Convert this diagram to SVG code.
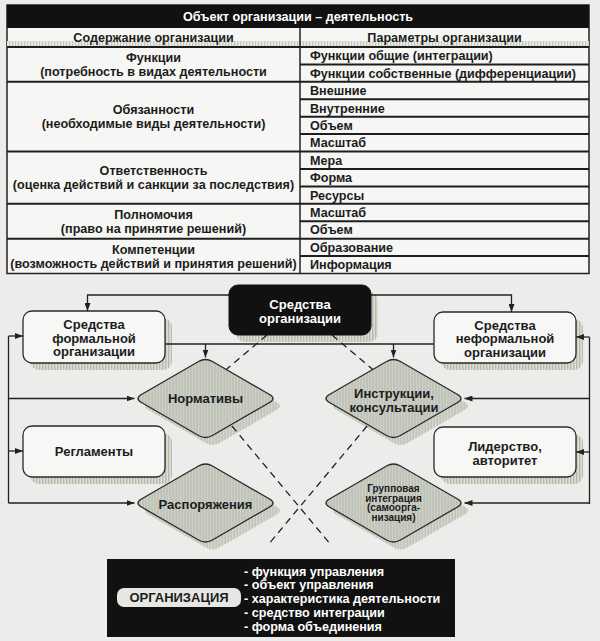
<svg xmlns="http://www.w3.org/2000/svg" xmlns:xlink="http://www.w3.org/1999/xlink" width="600" height="641" viewBox="0 0 600 641">
<defs>
  <pattern id="hatch" width="3" height="4" patternUnits="userSpaceOnUse">
    <rect width="3" height="4" fill="#d6d9cf"/>
    <rect width="1.4" height="4" fill="#a4a999"/>
  </pattern>
  <pattern id="dhatch" width="3" height="4" patternUnits="userSpaceOnUse">
    <rect width="3" height="4" fill="#d0d3ca"/>
    <rect width="1.2" height="4" fill="#b2b6aa"/>
  </pattern>
  <pattern id="thatch" width="3" height="4" patternUnits="userSpaceOnUse">
    <rect width="3" height="4" fill="#e9ebe4"/>
    <rect width="1.2" height="4" fill="#c3c8b8"/>
  </pattern>
  <marker id="arr" markerWidth="8" markerHeight="6" refX="8" refY="3" orient="auto" markerUnits="userSpaceOnUse">
    <path d="M0,0 L8,3 L0,6 z" fill="#222"/>
  </marker>
  <path id="dia" d="M-64.07,-4 Q-71,0 -64.07,4 L-6.93,37 Q0,41 6.93,37 L64.07,4 Q71,0 64.07,-4 L6.93,-37 Q0,-41 -6.93,-37 Z"/>
</defs>
<style>
  .t{font-family:"Liberation Sans",Arial,sans-serif;font-weight:bold;font-size:12.6px;fill:#1c1c1c}
  .n{font-family:"Liberation Sans",Arial,sans-serif;font-weight:bold;font-size:13px;fill:#1c1c1c;text-anchor:middle}
  .w{fill:#ffffff}
  .c{text-anchor:middle}
  .box{fill:#f7f7f5;stroke:#2a2a2a;stroke-width:1.3}
  .dia{fill:url(#dhatch);stroke:#2a2a2a;stroke-width:1.3}
  .sh{fill:url(#hatch);opacity:0.75}
  .ln{fill:none;stroke:#222;stroke-width:1.3}
  .ar{fill:none;stroke:#222;stroke-width:1.3;marker-end:url(#arr)}
  .dash{fill:none;stroke:#222;stroke-width:1.3;stroke-dasharray:7 5}
  .row{stroke:#1e1e1e;stroke-width:2}
</style>
<rect width="600" height="641" fill="#ececea"/>

<g id="table">
  <rect x="7" y="5" width="582" height="268.5" fill="#f6f6f4" stroke="#222" stroke-width="1.5"/>
  <rect x="7" y="41" width="582" height="5" fill="url(#thatch)"/>
  <rect x="7" y="5" width="582" height="23" fill="#111"/>
  <text class="t w c" x="298" y="21">Объект организации – деятельность</text>
  <text class="t c" x="153.5" y="42">Содержание организации</text>
  <text class="t c" x="444.5" y="42">Параметры организации</text>
  <line class="row" x1="7" y1="47" x2="589" y2="47"/>
  <line x1="300" y1="28" x2="300" y2="273.5" stroke="#222" stroke-width="1.5"/>
  <g class="row">
    <line x1="300" y1="64.4" x2="589" y2="64.4"/>
    <line x1="7" y1="81.8" x2="589" y2="81.8"/>
    <line x1="300" y1="99.3" x2="589" y2="99.3"/>
    <line x1="300" y1="116.7" x2="589" y2="116.7"/>
    <line x1="300" y1="134.1" x2="589" y2="134.1"/>
    <line x1="7" y1="151.5" x2="589" y2="151.5"/>
    <line x1="300" y1="169" x2="589" y2="169"/>
    <line x1="300" y1="186.4" x2="589" y2="186.4"/>
    <line x1="7" y1="203.8" x2="589" y2="203.8"/>
    <line x1="300" y1="221.2" x2="589" y2="221.2"/>
    <line x1="7" y1="238.7" x2="589" y2="238.7"/>
    <line x1="300" y1="256.1" x2="589" y2="256.1"/>
  </g>
  <g class="t c">
    <text x="153.5" y="61.8">Функции</text>
    <text x="153.5" y="75.8">(потребность в видах деятельности</text>
    <text x="153.5" y="114.1">Обязанности</text>
    <text x="153.5" y="128.1">(необходимые виды деятельности)</text>
    <text x="153.5" y="175">Ответственность</text>
    <text x="153.5" y="189">(оценка действий и санкции за последствия)</text>
    <text x="153.5" y="218.6">Полномочия</text>
    <text x="153.5" y="232.6">(право на принятие решений)</text>
    <text x="153.5" y="253.5">Компетенции</text>
    <text x="153.5" y="267.5">(возможность действий и принятия решений)</text>
  </g>
  <g class="t">
    <text x="310" y="60.2">Функции общие (интеграции)</text>
    <text x="310" y="77.6">Функции собственные (дифференциации)</text>
    <text x="310" y="95">Внешние</text>
    <text x="310" y="112.5">Внутренние</text>
    <text x="310" y="129.9">Объем</text>
    <text x="310" y="147.3">Масштаб</text>
    <text x="310" y="164.7">Мера</text>
    <text x="310" y="182.2">Форма</text>
    <text x="310" y="199.6">Ресурсы</text>
    <text x="310" y="217">Масштаб</text>
    <text x="310" y="234.4">Объем</text>
    <text x="310" y="251.9">Образование</text>
    <text x="310" y="269.3">Информация</text>
  </g>
</g>

<g id="shadows">
  <rect class="sh" x="30" y="318" width="142" height="52" rx="9"/>
  <rect class="sh" x="441" y="319" width="142" height="51" rx="9"/>
  <rect class="sh" x="30" y="433" width="142" height="51" rx="9"/>
  <rect class="sh" x="441" y="434" width="142" height="50" rx="9"/>
  <rect class="sh" x="236" y="292" width="142" height="50" rx="9"/>
  <use href="#dia" class="sh" x="212.5" y="406"/>
  <use href="#dia" class="sh" x="400.5" y="406"/>
  <use href="#dia" class="sh" x="212.5" y="510.5"/>
  <use href="#dia" class="sh" x="400.5" y="510.5"/>
</g>

<g id="connectors">
  <path class="dash" d="M267,335 L202,390 L331,545"/>
  <path class="dash" d="M332,335 L397,390 L268,545"/>
  <path class="ar" d="M229,295 H87.5 V311"/>
  <path class="ar" d="M371,295 H511.5 V312"/>
  <path class="ln" d="M165,344 H434"/>
  <path class="ar" d="M205.5,344 V357.5"/>
  <path class="ar" d="M393.5,344 V357.5"/>
  <path class="ln" d="M8.5,336 V503"/>
  <path class="ar" d="M8.5,336 H23"/>
  <path class="ar" d="M8.5,398.5 H134.5"/>
  <path class="ar" d="M8.5,451 H23"/>
  <path class="ar" d="M8.5,503 H134.5"/>
  <path class="ln" d="M589.5,337 V504"/>
  <path class="ar" d="M589.5,337 H576"/>
  <path class="ar" d="M589.5,398.5 H464.5"/>
  <path class="ar" d="M589.5,452 H576"/>
  <path class="ar" d="M589.5,503 H464.5"/>
</g>

<g id="n_center">
  <rect x="229" y="285" width="142" height="50" rx="9" fill="#111" stroke="#111"/>
  <text class="n w" x="300" y="308.5">Средства</text>
  <text class="n w" x="300" y="322.5">организации</text>
</g>
<g id="n_formal">
  <rect class="box" x="23" y="311" width="142" height="52" rx="9"/>
  <text class="n" x="94" y="329">Средства</text>
  <text class="n" x="94" y="342.5">формальной</text>
  <text class="n" x="94" y="356">организации</text>
</g>
<g id="n_informal">
  <rect class="box" x="434" y="312" width="142" height="51" rx="9"/>
  <text class="n" x="505" y="329.5">Средства</text>
  <text class="n" x="505" y="343">неформальной</text>
  <text class="n" x="505" y="356.5">организации</text>
</g>
<g id="n_norm">
  <use href="#dia" class="dia" x="205.5" y="398.5"/>
  <text class="n" x="205.5" y="403">Нормативы</text>
</g>
<g id="n_instr">
  <use href="#dia" class="dia" x="393.5" y="398.5"/>
  <text class="n" x="394" y="397.5">Инструкции,</text>
  <text class="n" x="394" y="411.5">консультации</text>
</g>
<g id="n_regl">
  <rect class="box" x="23" y="426" width="142" height="51" rx="9"/>
  <text class="n" x="94" y="456">Регламенты</text>
</g>
<g id="n_rasp">
  <use href="#dia" class="dia" x="205.5" y="503"/>
  <text class="n" x="205.5" y="508.5">Распоряжения</text>
</g>
<g id="n_lider">
  <rect class="box" x="434" y="427" width="142" height="50" rx="9"/>
  <text class="n" x="505" y="450.5">Лидерство,</text>
  <text class="n" x="505" y="464.5">авторитет</text>
</g>
<g id="n_group">
  <use href="#dia" class="dia" x="393.5" y="503"/>
  <g class="n" style="font-size:10px">
    <text x="393.5" y="492">Групповая</text>
    <text x="393.5" y="501.5">интеграция</text>
    <text x="393.5" y="511">(самоорга-</text>
    <text x="393.5" y="520.5">низация)</text>
  </g>
</g>
<g id="n_org">
  <rect x="107" y="559" width="348" height="78" fill="#111"/>
  <rect x="117" y="588" width="124" height="19" rx="7" fill="#e6e7e2"/>
  <text class="n" x="179" y="602">ОРГАНИЗАЦИЯ</text>
  <g class="t w" style="font-size:12.6px">
    <text x="244" y="575.5">- функция управления</text>
    <text x="244" y="589.3">- объект управления</text>
    <text x="244" y="603.1">- характеристика деятельности</text>
    <text x="244" y="616.9">- средство интеграции</text>
    <text x="244" y="630.7">- форма объединения</text>
  </g>
</g>
</svg>
